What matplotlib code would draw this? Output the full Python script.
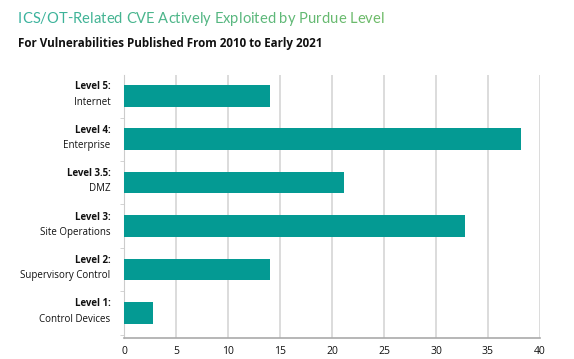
import matplotlib.pyplot as plt
import matplotlib.colors as mcolors
import numpy as np

levels = ["Level 1:", "Level 2:", "Level 3:", "Level 3.5:", "Level 4:", "Level 5:"]
names = ["Control Devices", "Supervisory Control", "Site Operations", "DMZ", "Enterprise", "Internet"]
values = [2.8, 14.0, 32.8, 21.2, 38.2, 14.0]
xticks = [0, 5, 10, 15, 20, 25, 30, 35, 40]

title = "ICS/OT-Related CVE Actively Exploited by Purdue Level"
subtitle = "For Vulnerabilities Published From 2010 to Early 2021"

plt.rcParams["font.family"] = ["Open Sans", "DejaVu Sans"]

fig = plt.figure(figsize=(5.74, 3.59), dpi=100)
ax = fig.add_axes([124 / 574, 21 / 359, 416 / 574, 263 / 359])

y = np.arange(len(values))
ax.barh(y, values, height=0.5, color="#049a93", zorder=3)

ax.set_xlim(0, 40)
ax.set_ylim(-0.58, 5.48)
ax.set_xticks(xticks)
ax.set_xticklabels([str(t) for t in xticks], fontsize=7.5, color="#111111")
ax.xaxis.grid(True, color="#d6d6d6", linewidth=1.2, zorder=0)
ax.tick_params(axis="x", length=0, pad=6)

ax.set_yticks(y)
ax.set_yticklabels([])
ax.set_yticks(np.arange(-0.5, 5.5, 1), minor=True)
ax.tick_params(axis="y", which="major", length=0)
ax.tick_params(axis="y", which="minor", length=3, color="#cccccc")

for sp in ["top", "right"]:
    ax.spines[sp].set_visible(False)
ax.spines["left"].set_color("#cccccc")
ax.spines["bottom"].set_color("#aaaaaa")
ax.spines["bottom"].set_linewidth(1.2)

for yi, lv, nm in zip(y, levels, names):
    ax.text(-1.3, yi + 0.08, lv, ha="right", va="bottom", fontsize=7,
            fontweight="bold", color="#111111")
    ax.text(-1.3, yi - 0.02, nm, ha="right", va="top", fontsize=7,
            color="#111111")

# title with a teal -> green gradient, drawn one character at a time
c0 = np.array(mcolors.to_rgb("#38b29e"))
c1 = np.array(mcolors.to_rgb("#6fbb68"))
tfont = dict(fontsize=10.6, family=["Lato", "DejaVu Sans"])
renderer = fig.canvas.get_renderer()
x = 18
n = len(title)
for i, ch in enumerate(title):
    col = c0 + (c1 - c0) * i / (n - 1)
    fig.text(x / 574, 1 - 23 / 359, ch, color=col, va="baseline", **tfont)
    w_prefix = fig.text(0, 0, title[: i + 1], **tfont)
    wp = w_prefix.get_window_extent(renderer).width
    w_prefix.remove()
    x = 18 + wp

fig.text(18 / 574, 1 - 47 / 359, subtitle,
         fontsize=8.4, fontweight="bold", color="#111111", va="baseline")

fig.savefig("out.png", dpi=100)
